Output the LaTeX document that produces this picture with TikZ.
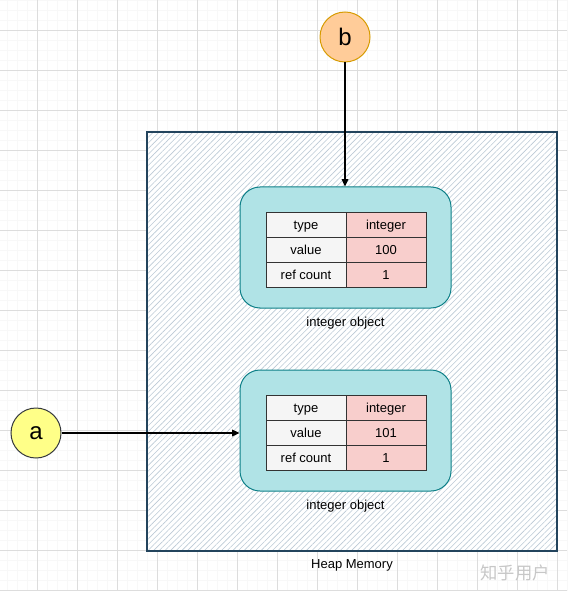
\documentclass[tikz,border=0pt]{standalone}
\usepackage{fontspec}
\setmainfont{Liberation Sans}
\newfontfamily\cjkfont{Noto Sans CJK SC}
\usetikzlibrary{positioning, arrows.meta, patterns.meta}

\definecolor{gridmajor}{HTML}{DDDDDD}
\definecolor{gridminor}{HTML}{F8F8F8}
\definecolor{heapline}{HTML}{23445D}
\definecolor{hatchcol}{HTML}{BCCAD6}
\definecolor{objfill}{HTML}{B0E3E6}
\definecolor{objline}{HTML}{0E8088}
\definecolor{keyfill}{HTML}{F5F5F5}
\definecolor{valfill}{HTML}{F8CECC}
\definecolor{bfill}{HTML}{FFCC99}
\definecolor{bline}{HTML}{D79B00}
\definecolor{afill}{HTML}{FFFF88}
\definecolor{aline}{HTML}{36393D}

\tikzset{
  varnode/.style={circle, draw, line width=0.75pt, minimum size=37.5pt, inner sep=0pt, font=\fontsize{18}{18}\selectfont},
  heapbox/.style={rectangle, draw=heapline, line width=0.9pt, preaction={fill=white},
    pattern={Lines[angle=45, distance=3pt, line width=0.45pt]}, pattern color=hatchcol,
    minimum width=307.5pt, minimum height=314.25pt},
  objbox/.style={rectangle, draw=objline, fill=objfill, line width=0.75pt, rounded corners=15pt,
    minimum width=158.25pt, minimum height=90.75pt},
  keycell/.style={rectangle, draw=black!80, fill=keyfill, line width=0.6pt, outer sep=0pt,
    minimum width=60pt, minimum height=18.75pt, inner sep=0pt, text height=8pt, text depth=1pt,
    font=\fontsize{9.75}{9.75}\selectfont},
  valcell/.style={keycell, fill=valfill},
  caption/.style={font=\fontsize{9.75}{9.75}\selectfont, inner sep=0pt},
  ref/.style={-{Triangle[length=5.5pt, width=5pt]}, line width=0.9pt},
}

\begin{document}
\begin{tikzpicture}[x=0.75pt, y=-0.75pt]
    \fill[white] (0,0) rectangle (567,591);
    \useasboundingbox (0,0) rectangle (567,591);

    % Grid
    \foreach \x in {7,17,...,567} \draw[gridminor, line width=0.4pt] (\x,0) -- (\x,591);
    \foreach \y in {0,10,...,590} \draw[gridminor, line width=0.4pt] (0,\y) -- (567,\y);
    \foreach \x in {37,77,...,557} \draw[gridmajor, line width=0.5pt] (\x,0) -- (\x,591);
    \foreach \y in {30,70,...,590} \draw[gridmajor, line width=0.5pt] (0,\y) -- (567,\y);

    % Define nodes
    \node[heapbox] (heap) at (352,341.5) {};
    \node[caption, below=6pt of heap] (heaplabel) {Heap Memory};

    \foreach \obj/\cy/\val in {top/247.5/100, bot/430.5/101} {
        \node[objbox] (\obj) at (345.5,\cy) {};
        \node[keycell] (\obj-type) at (306,\cy-23) {type};
        \node[valcell, right=0pt of \obj-type] (\obj-typev) {integer};
        \node[keycell, below=0pt of \obj-type] (\obj-value) {value};
        \node[valcell, right=0pt of \obj-value] (\obj-valuev) {\val};
        \node[keycell, below=0pt of \obj-value] (\obj-ref) {ref count};
        \node[valcell, right=0pt of \obj-ref] (\obj-refv) {1};
        \node[caption, below=6pt of \obj] (\obj-label) {integer object};
    }

    \node[varnode, draw=bline, fill=bfill] (b) at (345,37) {b};
    \node[varnode, draw=aline, fill=afill] (a) at (36,433) {a};

    \node[font=\cjkfont\fontsize{13}{13}\selectfont, text=black!22] (mark) at (515,573) {知乎用户};

    % Draw edges
    \draw[ref] (b) -- (b |- top.north);
    \draw[ref] (a) -- (a -| bot.west);
\end{tikzpicture}
\end{document}
